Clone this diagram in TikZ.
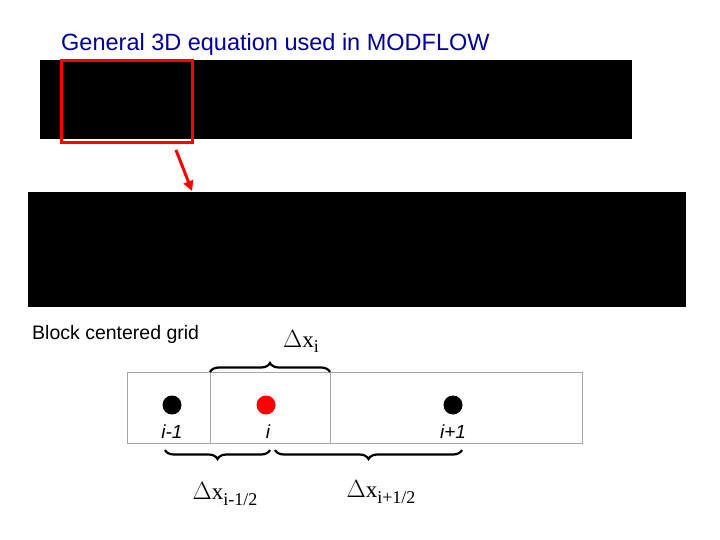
\documentclass[tikz,border=0pt]{standalone}
\usepackage{fontspec}
\setmainfont{Liberation Sans}
\newfontfamily\serf{Liberation Serif}
\usetikzlibrary{decorations.pathreplacing,arrows.meta}
\begin{document}
\begin{tikzpicture}[x=1pt,y=-1pt,
  brc/.style={decorate,decoration={brace,amplitude=9pt},line width=2.2pt},
  dot/.style={circle,fill=black,minimum size=19pt,inner sep=0pt},
  lab/.style={font=\itshape\fontsize{19}{22}\selectfont},
  dlab/.style={font=\serf\fontsize{23}{26}\selectfont}]
\useasboundingbox (0,0) rectangle (720,540);
\node[anchor=west,text=blue!60!black,font=\fontsize{23.5}{27}\selectfont,inner sep=0pt] (t) at (61,44) {General 3D equation used in MODFLOW};
\fill (40,60) rectangle (632,139);
\draw[red,line width=3pt] (61,61) rectangle (192,143);
\coordinate (a1) at (176,150); \coordinate (a2) at (192,191);
\draw[red,line width=3pt,-{Triangle[length=10pt,width=10pt]}] (a1) -- (a2);
\fill (28,192) rectangle (686,307);
\node[anchor=west,font=\fontsize{19.5}{22}\selectfont,inner sep=0pt] (b) at (32,334) {Block centered grid};
\draw[gray!70] (127,372) rectangle (582,443);
\draw[gray!70] (210,372) -- (210,443) (330,372) -- (330,443);
\node[dot] (d1) at (172,405) {};
\node[dot,fill=red] (d2) at (266,405) {};
\node[dot] (d3) at (453,405) {};
\node[lab] at (172,432) {i-1};
\node[lab] at (268,432) {i};
\node[lab] at (453,432) {i+1};
\draw[brc] (210,372) -- (330,372);
\node[dlab] at (301,341) {$\Delta$x\raisebox{-5pt}{\fontsize{18}{20}\selectfont i}};
\draw[brc] (270,450) -- (165,450);
\draw[brc] (462,450) -- (275,450);
\node[dlab] at (225,494) {$\Delta$x\raisebox{-6pt}{\fontsize{18}{20}\selectfont i-1/2}};
\node[dlab] at (381,492) {$\Delta$x\raisebox{-6pt}{\fontsize{18}{20}\selectfont i+1/2}};
\end{tikzpicture}
\end{document}
